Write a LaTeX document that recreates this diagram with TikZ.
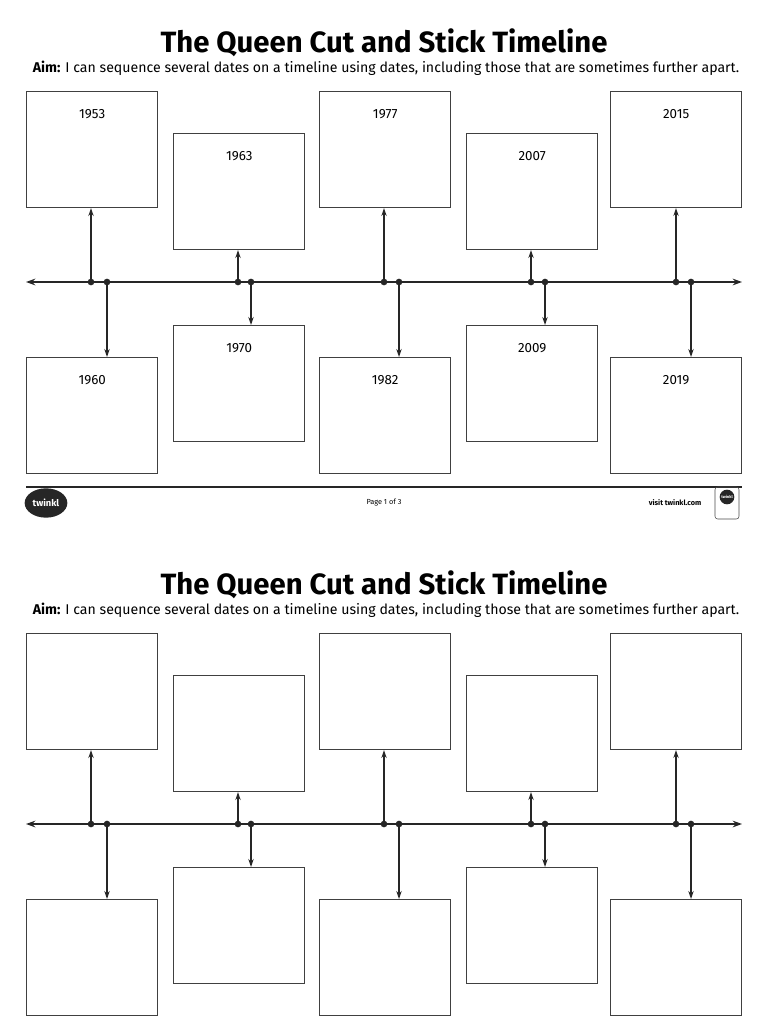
\documentclass[tikz,border=0pt]{standalone}
\usepackage{fontspec}
\setmainfont{Fira Sans}
\usetikzlibrary{arrows.meta,shapes.geometric}
\begin{document}
\begin{tikzpicture}[x=0.75pt,y=-0.75pt,
  card/.style={draw=black!75,line width=0.8pt,minimum width=98.5pt,minimum height=87pt,inner sep=0pt,anchor=north west},
  yr/.style={font=\fontsize{10}{12}\selectfont,anchor=north},
  dot/.style={circle,fill=black!85,inner sep=0pt,minimum size=5pt},
  link/.style={line width=1.3pt,black!85,-{Stealth[length=6pt,width=4pt]}},
  axis/.style={line width=1.5pt,black!85,{Stealth[length=7pt,width=5pt,open]}-{Stealth[length=7pt,width=5pt,open]}}]
\useasboundingbox[fill=white] (0,0) rectangle (768,1024);
\foreach \p/\dy/\show in {a/0/1,b/542/0}{
\begin{scope}[yshift=-\dy*0.75pt]
\node[font=\bfseries\fontsize{22}{26}\selectfont] (\p title) at (384,43) {The Queen Cut and Stick Timeline};
\node[font=\fontsize{10.6}{12}\selectfont] (\p aim) at (386,68) {\textbf{Aim:} I can sequence several dates on a timeline using dates, including those that are sometimes further apart.};
\foreach \i/\x/\y/\t in {1/26/91/1953,2/173/133/1963,3/319/91/1977,4/466/133/2007,5/610/91/2015,
                          6/26/357/1960,7/173/325/1970,8/319/357/1982,9/466/325/2009,10/610/357/2019}{
  \node[card] (\p c\i) at (\x,\y) {};
  \ifnum\show=1 \node[yr] (\p t\i) at ([yshift=-10pt]\p c\i.north) {\t}; \fi
}
\coordinate (\p L) at (26,282); \coordinate (\p R) at (742,282);
\draw[axis] (\p L) -- (\p R);
\foreach \i/\xu/\xd in {1/91/107,2/238/251,3/384/399,4/531/545,5/676/691}{
  \node[dot] (\p u\i) at (\xu,282) {};
  \node[dot] (\p d\i) at (\xd,282) {};
}
\foreach \i in {1,...,5}{
  \draw[link] (\p u\i.center) -- (\p u\i.center |- \p c\i.south);
}
\foreach \i/\j in {1/6,2/7,3/8,4/9,5/10}{
  \draw[link] (\p d\i.center) -- (\p d\i.center |- \p c\j.north);
}
\ifnum\show=1
\coordinate (\p F1) at (26,487); \coordinate (\p F2) at (742,487);
\draw[line width=2pt,black!85] (\p F1) -- (\p F2);
\node[fill=black!85,ellipse,inner sep=1pt,minimum width=32pt,minimum height=22pt,text=white,font=\bfseries\fontsize{7}{8}\selectfont] (\p logo) at (46,503) {twinkl};
\node[font=\fontsize{5.5}{6}\selectfont] (\p page) at (384,503) {Page 1 of 3};
\node[font=\bfseries\fontsize{5.5}{6}\selectfont,anchor=east] (\p visit) at (706,503) {visit twinkl.com};
\node[draw=black!70,rounded corners=2pt,minimum width=18pt,minimum height=24pt,inner sep=0pt] (\p badge) at (727,503) {};
\node[fill=black!85,circle,inner sep=0pt,minimum size=11pt,text=white,font=\bfseries\fontsize{3}{3}\selectfont] (\p bl) at (727,497) {twinkl};
\fi
\end{scope}
}
\end{tikzpicture}
\end{document}
